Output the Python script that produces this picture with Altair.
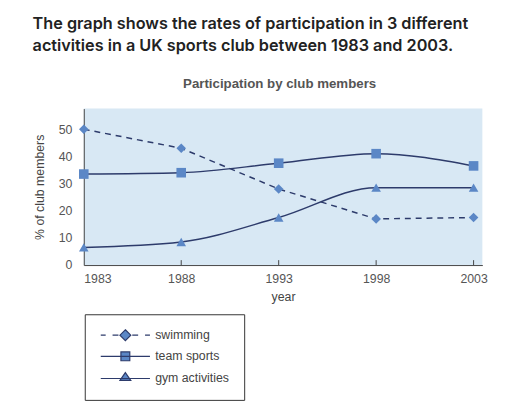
import altair as alt
import pandas as pd

# values
years = [1983, 1988, 1993, 1998, 2003]
swimming = [50, 43, 28, 17, 17.5]
team_sports = [33.5, 34, 37.5, 41, 36.5]
gym_activities = [6.5, 8.5, 17.5, 28.5, 28.5]
activities = ["swimming", "team sports", "gym activities"]

rows = []
for name, vals in zip(activities, [swimming, team_sports, gym_activities]):
    for yr, v in zip(years, vals):
        rows.append({"year": yr, "pct": v, "activity": name})
df = pd.DataFrame(rows)

navy = "#2d3b6b"
blue = "#5b87c6"

x_enc = alt.X("year:Q", scale=alt.Scale(domain=[1983, 2003.45], nice=False, zero=False),
              axis=alt.Axis(values=years, format="d", title="year", grid=False,
                            ticks=False, labelPadding=8, titlePadding=6,
                            labelFontSize=12.5, titleFontSize=12.5))
y_enc = alt.Y("pct:Q", scale=alt.Scale(domain=[0, 57.6], nice=False),
              axis=alt.Axis(values=[0, 10, 20, 30, 40, 50], title="% of club members",
                            grid=False, ticks=False, labelPadding=12, titlePadding=12,
                            labelFontSize=12.5, titleFontSize=12.5))

base = alt.Chart(df).encode(x=x_enc, y=y_enc)

# small inward ticks on the year axis
ticks = alt.Chart(pd.DataFrame({"year": years[1:]})).mark_rule(
    color="#444", strokeWidth=1
).encode(x=x_enc, y=alt.value(159), y2=alt.value(154))

swim_line = base.transform_filter(alt.datum.activity == "swimming").mark_line(
    color=navy, strokeWidth=1.5, strokeDash=[6, 5])
other_lines = base.transform_filter(alt.datum.activity != "swimming").mark_line(
    color=navy, strokeWidth=1.5, interpolate="monotone").encode(detail="activity:N")

points = base.mark_point(filled=True, fill=blue, opacity=1, size=95).encode(
    shape=alt.Shape("activity:N", legend=None,
                    scale=alt.Scale(domain=activities,
                                    range=["diamond", "square", "triangle-up"])))

# legend-only layer: invisible marks, symbols are line + marker paths
legend_paths = [
    "M-1,0H0M1.4,0H2.6M5.4,0H6.6M8,0H9M4,-1.1L5.1,0L4,1.1L2.9,0Z",
    "M-1,0H9M3.1,-0.9H4.9V0.9H3.1Z",
    "M-1,0H9M4,-1.2L5.1,0.4H2.9Z",
]
legend_layer = base.mark_point(filled=False, color=navy, fill=blue, strokeWidth=1.2,
                               opacity=0).encode(
    shape=alt.Shape("activity:N", title=None,
                    scale=alt.Scale(domain=activities, range=legend_paths),
                    legend=alt.Legend(orient="none", legendX=1, legendY=209,
                                      padding=15, strokeColor="#333",
                                      symbolSize=100, symbolStrokeWidth=1.2,
                                      labelOffset=44, labelFontSize=12.5,
                                      labelColor="#444", rowPadding=5.5)))

subtitle = alt.Chart(pd.DataFrame({"t": ["Participation by club members"]})).mark_text(
    font="Liberation Sans", fontSize=13.5, fontWeight="bold", color="#555"
).encode(x=alt.value(199), y=alt.value(-25), text="t:N")

chart = alt.layer(swim_line, other_lines, ticks, legend_layer, points, subtitle).resolve_scale(
    shape="independent"
).properties(
    width=405, height=159,
    autosize=alt.AutoSizeParams(type="none"),
    padding={"left": 77, "top": 99, "right": 22, "bottom": 140},
    title=alt.TitleParams(
        ["The graph shows the rates of participation in 3 different",
         "activities in a UK sports club between 1983 and 2003."],
        anchor="start", frame="group", dx=-52, offset=23, fontSize=16.5,
        font="Inter", fontWeight=600, color="#222", lineHeight=22),
).configure_view(fill="#d8e8f4", stroke=None).configure_axis(
    domainColor="#444", labelColor="#555", titleColor="#444",
    labelFont="Liberation Sans", titleFont="Liberation Sans", titleFontWeight="normal"
).configure_legend(labelFont="Liberation Sans")

chart.save("out.html", embed_options={"renderer": "svg", "actions": False})
